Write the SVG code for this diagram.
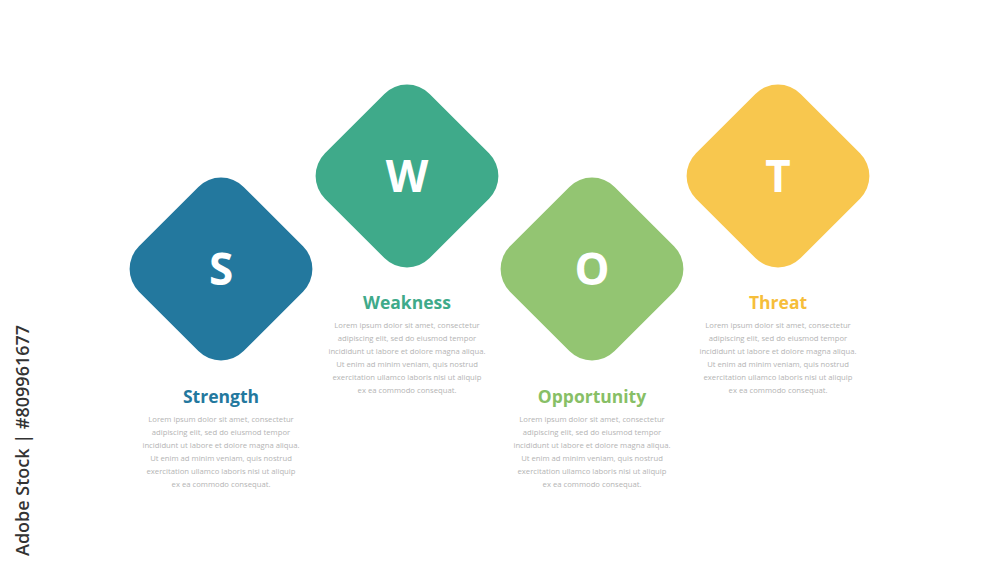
<svg xmlns="http://www.w3.org/2000/svg" width="1000" height="572" viewBox="0 0 1000 572">
<style>
.letter{font-family:"Open Sans","Liberation Sans",sans-serif;font-weight:700;font-size:44px;fill:#ffffff;text-anchor:middle}
.title{font-family:"Open Sans","Liberation Sans",sans-serif;font-weight:700;font-size:17.5px;text-anchor:middle}
.body{font-family:"Open Sans","Liberation Sans",sans-serif;font-size:7.7px;fill:#b4b4b4;text-anchor:middle}
.wm{font-family:"Open Sans","Liberation Sans",sans-serif;font-weight:600;font-size:18px;fill:#333333}
</style>
<defs>
<rect id="dm" x="-74" y="-74" width="148" height="148" rx="32" ry="32" transform="rotate(45)"/>
</defs>
<rect width="1000" height="572" fill="#ffffff"/>
<g id="node-s">
<use href="#dm" transform="translate(221,269)" fill="#23789E"/>
<text class="letter" x="221" y="285">S</text>
<text class="title" x="221" y="403" fill="#23789E">Strength</text>
<text class="body" x="221" y="422">Lorem ipsum dolor sit amet, consectetur</text>
<text class="body" x="221" y="435">adipiscing elit, sed do eiusmod tempor</text>
<text class="body" x="221" y="448">incididunt ut labore et dolore magna aliqua.</text>
<text class="body" x="221" y="461">Ut enim ad minim veniam, quis nostrud</text>
<text class="body" x="221" y="474">exercitation ullamco laboris nisi ut aliquip</text>
<text class="body" x="221" y="487">ex ea commodo consequat.</text>
</g>
<g id="node-w">
<use href="#dm" transform="translate(407,176)" fill="#3FAA8A"/>
<text class="letter" x="407" y="192">W</text>
<text class="title" x="407" y="309" fill="#3FAA8A">Weakness</text>
<text class="body" x="407" y="328">Lorem ipsum dolor sit amet, consectetur</text>
<text class="body" x="407" y="341">adipiscing elit, sed do eiusmod tempor</text>
<text class="body" x="407" y="354">incididunt ut labore et dolore magna aliqua.</text>
<text class="body" x="407" y="367">Ut enim ad minim veniam, quis nostrud</text>
<text class="body" x="407" y="380">exercitation ullamco laboris nisi ut aliquip</text>
<text class="body" x="407" y="393">ex ea commodo consequat.</text>
</g>
<g id="node-o">
<use href="#dm" transform="translate(592,269)" fill="#93C572"/>
<text class="letter" x="592" y="285">O</text>
<text class="title" x="592" y="403" fill="#88BF66">Opportunity</text>
<text class="body" x="592" y="422">Lorem ipsum dolor sit amet, consectetur</text>
<text class="body" x="592" y="435">adipiscing elit, sed do eiusmod tempor</text>
<text class="body" x="592" y="448">incididunt ut labore et dolore magna aliqua.</text>
<text class="body" x="592" y="461">Ut enim ad minim veniam, quis nostrud</text>
<text class="body" x="592" y="474">exercitation ullamco laboris nisi ut aliquip</text>
<text class="body" x="592" y="487">ex ea commodo consequat.</text>
</g>
<g id="node-t">
<use href="#dm" transform="translate(778,176)" fill="#F8C74E"/>
<text class="letter" x="778" y="192">T</text>
<text class="title" x="778" y="309" fill="#F6BE3A">Threat</text>
<text class="body" x="778" y="328">Lorem ipsum dolor sit amet, consectetur</text>
<text class="body" x="778" y="341">adipiscing elit, sed do eiusmod tempor</text>
<text class="body" x="778" y="354">incididunt ut labore et dolore magna aliqua.</text>
<text class="body" x="778" y="367">Ut enim ad minim veniam, quis nostrud</text>
<text class="body" x="778" y="380">exercitation ullamco laboris nisi ut aliquip</text>
<text class="body" x="778" y="393">ex ea commodo consequat.</text>
</g>
<g id="connectors"></g>
<text class="wm" transform="translate(29,556) rotate(-90)">Adobe Stock | #809961677</text>
</svg>
